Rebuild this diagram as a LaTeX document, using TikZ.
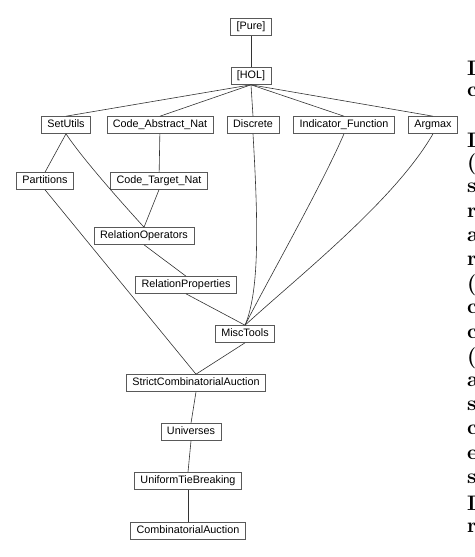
\documentclass[tikz,border=0pt]{standalone}
\usepackage{fontspec}
\newfontfamily\thyfont{Liberation Sans}
\usetikzlibrary{positioning}

\begin{document}
\begin{tikzpicture}[
  x=1pt, y=-1pt,
  thy/.style  = {draw=black!65, line width=0.6pt, inner xsep=6pt, inner ysep=0pt,
                 minimum height=17pt, text height=8pt, text depth=2.2pt,
                 font=\thyfont\fontsize{10.8}{12}\selectfont},
  dep/.style  = {draw=black!80, line width=0.6pt},
  frag/.style = {anchor=west, inner sep=0pt, font=\fontsize{21}{24}\selectfont\bfseries}
]
\useasboundingbox (0,0) rectangle (474,557);

%% ---- theories, top to bottom ------------------------------------------
\node[thy] (pure) at (251,27) {[Pure]};
\node[thy] (hol)  at (251,76) {[HOL]};

\node[thy] (setutils)  at (66,125)  {SetUtils};
\node[thy] (codeabs)   at (160,125) {Code\_Abstract\_Nat};
\node[thy] (discrete)  at (253,125) {Discrete};
\node[thy] (indicator) at (344,125) {Indicator\_Function};
\node[thy] (argmax)    at (433,125) {Argmax};

\node[thy] (partitions) at (45,181)  {Partitions};
\node[thy] (codetarget) at (159,181) {Code\_Target\_Nat};
\node[thy] (relops)     at (144,236) {RelationOperators};
\node[thy] (relprops)   at (186,285) {RelationProperties};
\node[thy] (misc)       at (245,334) {MiscTools};
\node[thy] (strict)     at (196,383) {StrictCombinatorialAuction};
\node[thy] (universes)  at (191,432) {Universes};
\node[thy] (tiebreak)   at (188,481) {UniformTieBreaking};
\node[thy] (combauc)    at (188,531) {CombinatorialAuction};

%% ---- imports -----------------------------------------------------------
\draw[dep] (pure) -- (hol);
\draw[dep] (hol.south) -- (setutils.north);
\draw[dep] (hol.south) -- (codeabs.north);
\draw[dep] (hol.south) -- (discrete.north);
\draw[dep] (hol.south) -- (indicator.north);
\draw[dep] (hol.south) -- (argmax.north);

\draw[dep] (setutils.south) -- (partitions.north);
\draw[dep] (setutils.south) .. controls (80,155) and (112,192) .. (relops.north);
\draw[dep] (codeabs) -- (codetarget);
\draw[dep] (codetarget.south) -- (relops.north);
\draw[dep] (relops.south) -- (relprops.north);
\draw[dep] (relprops.south) -- (misc.north);

%% curved ones into MiscTools
\draw[dep] (discrete.south) .. controls (258,220) and (260,290) .. (misc.north);
\draw[dep] (indicator.south) .. controls (322,185) and (268,280) .. (misc.north);
\draw[dep] (argmax.south) .. controls (395,200) and (300,275) .. (misc.north);

\draw[dep] (partitions.south) -- (strict.north);
\draw[dep] (misc.south) -- (strict.north);
\draw[dep] (strict.south) -- (universes.north);
\draw[dep] (universes.south) -- (tiebreak.north);
\draw[dep] (tiebreak.south) -- (combauc.north);

%% ---- cut-off page text at the right edge ------------------------------
\begin{scope}
  \clip (0,0) rectangle (474,557);
  \foreach \y/\ch [count=\i] in {68/I, 92/c, 140/I, 164/(, 188/s, 213/r, 237/a,
      261/r, 285/(, 309/c, 334/c, 358/(, 382/a, 406/s, 430/c, 455/e, 479/s,
      503/I, 528/r}
    \node[frag] (frag\i) at (467,\y) {\ch};
\end{scope}

\end{tikzpicture}
\end{document}
